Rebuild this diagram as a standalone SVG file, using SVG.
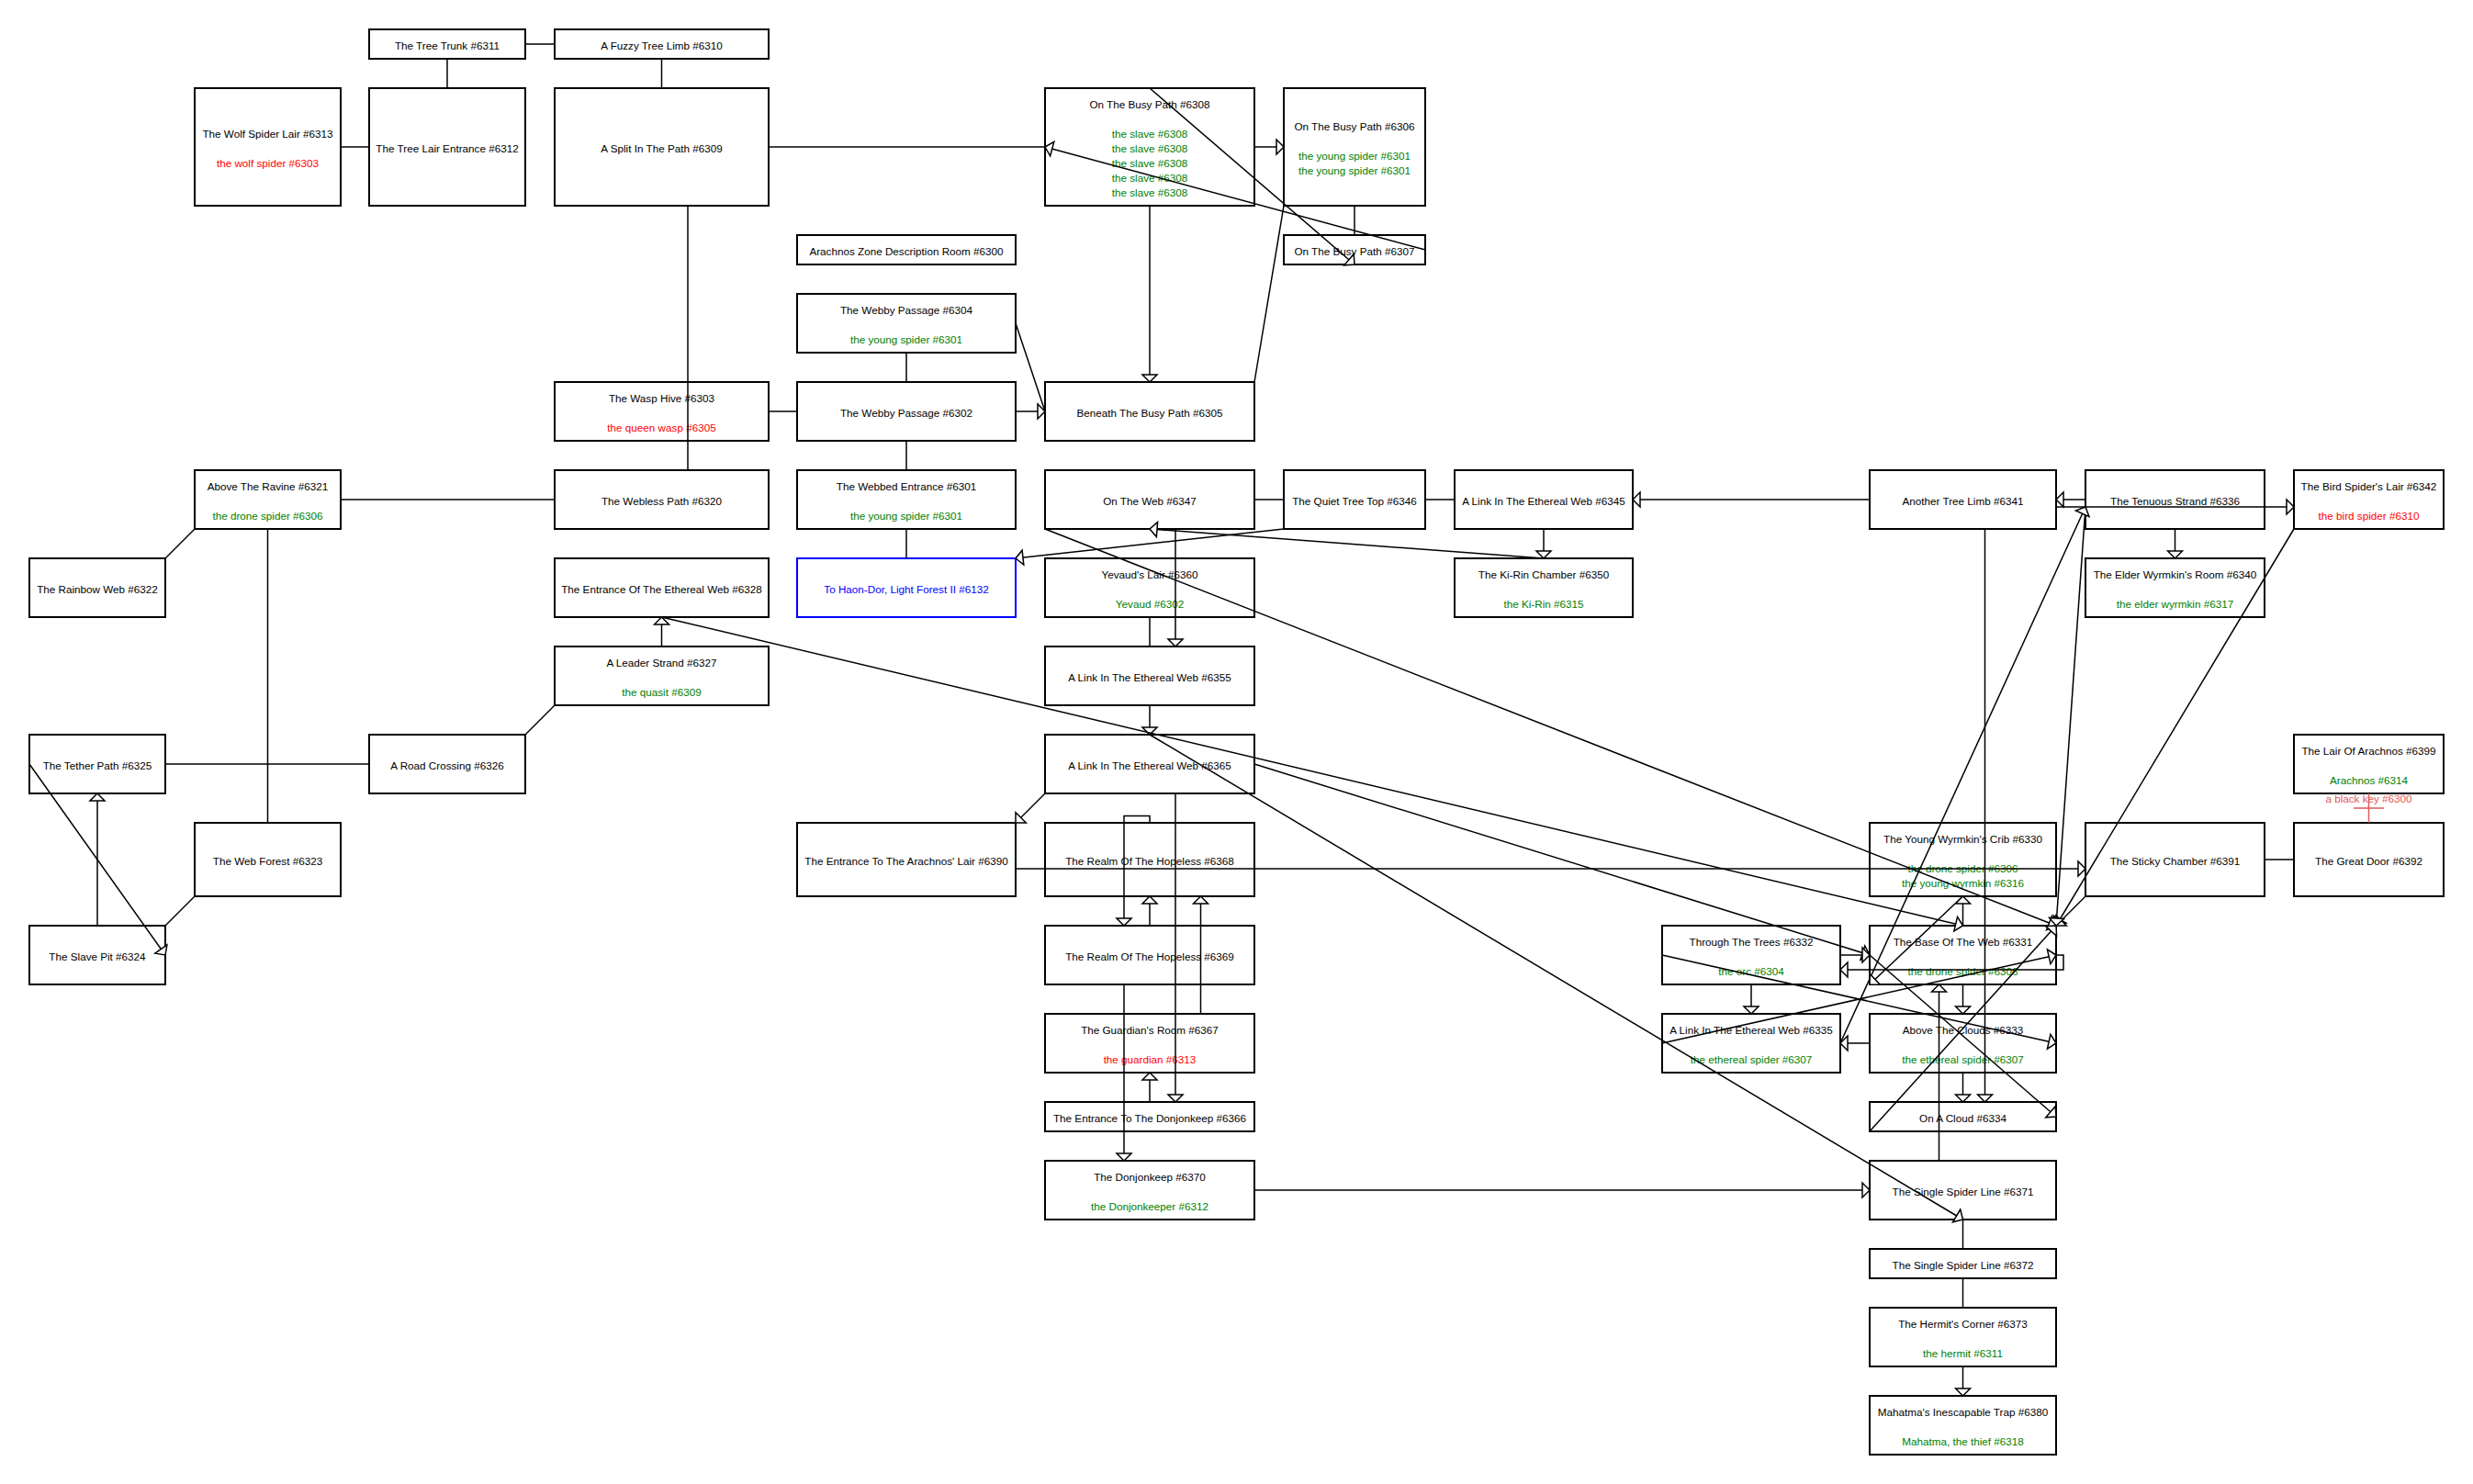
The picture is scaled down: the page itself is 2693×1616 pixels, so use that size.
<svg xmlns="http://www.w3.org/2000/svg" width="2693" height="1616" viewBox="0 0 2693 1616">
<style>
rect.b{fill:#fff;stroke:#000;stroke-width:2}
rect.bl{fill:#fff;stroke:#0000ff;stroke-width:2}
text{font-family:"Liberation Sans",Arial,sans-serif;font-size:11.7px;text-anchor:middle;fill:#000}
text.g{fill:#008000}
text.r{fill:#ff0000}
text.u{fill:#0000ff}
text.k{fill:#e05a5a}
#edges path{fill:none;stroke:#000;stroke-width:1.5}
#edges path.a{marker-end:url(#ah)}
#edges path.key{stroke:#e05a5a}
</style>
<defs>
<marker id="ah" markerUnits="userSpaceOnUse" viewBox="-10 -10 12 20" markerWidth="12" markerHeight="20" refX="0" refY="0" orient="auto"><path d="M0,0 L-8,-8 L-8,8 Z" fill="#fff" stroke="#000" stroke-width="1.5"/></marker>
</defs>
<rect width="2693" height="1616" fill="#fff"/>
<g id="nodes">
<g id="n6311"><rect class="b" x="402" y="32" width="170" height="32"/><text x="487" y="54">The Tree Trunk #6311</text></g>
<g id="n6310"><rect class="b" x="604" y="32" width="233" height="32"/><text x="720.5" y="54">A Fuzzy Tree Limb #6310</text></g>
<g id="n6313"><rect class="b" x="212" y="96" width="159" height="128"/><text x="291.5" y="150">The Wolf Spider Lair #6313</text><text class="r" x="291.5" y="182">the wolf spider #6303</text></g>
<g id="n6312"><rect class="b" x="402" y="96" width="170" height="128"/><text x="487" y="166">The Tree Lair Entrance #6312</text></g>
<g id="n6309"><rect class="b" x="604" y="96" width="233" height="128"/><text x="720.5" y="166">A Split In The Path #6309</text></g>
<g id="n6308"><rect class="b" x="1138" y="96" width="228" height="128"/><text x="1252" y="118">On The Busy Path #6308</text><text class="g" x="1252" y="150">the slave #6308</text><text class="g" x="1252" y="166">the slave #6308</text><text class="g" x="1252" y="182">the slave #6308</text><text class="g" x="1252" y="198">the slave #6308</text><text class="g" x="1252" y="214">the slave #6308</text></g>
<g id="n6306"><rect class="b" x="1398" y="96" width="154" height="128"/><text x="1475" y="142">On The Busy Path #6306</text><text class="g" x="1475" y="174">the young spider #6301</text><text class="g" x="1475" y="190">the young spider #6301</text></g>
<g id="n6307"><rect class="b" x="1398" y="256" width="154" height="32"/><text x="1475" y="278">On The Busy Path #6307</text></g>
<g id="n6300"><rect class="b" x="868" y="256" width="238" height="32"/><text x="987" y="278">Arachnos Zone Description Room #6300</text></g>
<g id="n6304"><rect class="b" x="868" y="320" width="238" height="64"/><text x="987" y="342">The Webby Passage #6304</text><text class="g" x="987" y="374">the young spider #6301</text></g>
<g id="n6303"><rect class="b" x="604" y="416" width="233" height="64"/><text x="720.5" y="438">The Wasp Hive #6303</text><text class="r" x="720.5" y="470">the queen wasp #6305</text></g>
<g id="n6302"><rect class="b" x="868" y="416" width="238" height="64"/><text x="987" y="454">The Webby Passage #6302</text></g>
<g id="n6305"><rect class="b" x="1138" y="416" width="228" height="64"/><text x="1252" y="454">Beneath The Busy Path #6305</text></g>
<g id="n6321"><rect class="b" x="212" y="512" width="159" height="64"/><text x="291.5" y="534">Above The Ravine #6321</text><text class="g" x="291.5" y="566">the drone spider #6306</text></g>
<g id="n6320"><rect class="b" x="604" y="512" width="233" height="64"/><text x="720.5" y="550">The Webless Path #6320</text></g>
<g id="n6301"><rect class="b" x="868" y="512" width="238" height="64"/><text x="987" y="534">The Webbed Entrance #6301</text><text class="g" x="987" y="566">the young spider #6301</text></g>
<g id="n6347"><rect class="b" x="1138" y="512" width="228" height="64"/><text x="1252" y="550">On The Web #6347</text></g>
<g id="n6346"><rect class="b" x="1398" y="512" width="154" height="64"/><text x="1475" y="550">The Quiet Tree Top #6346</text></g>
<g id="n6345"><rect class="b" x="1584" y="512" width="194" height="64"/><text x="1681" y="550">A Link In The Ethereal Web #6345</text></g>
<g id="n6341"><rect class="b" x="2036" y="512" width="203" height="64"/><text x="2137.5" y="550">Another Tree Limb #6341</text></g>
<g id="n6336"><rect class="b" x="2271" y="512" width="195" height="64"/><text x="2368.5" y="550">The Tenuous Strand #6336</text></g>
<g id="n6342"><rect class="b" x="2498" y="512" width="163" height="64"/><text x="2579.5" y="534">The Bird Spider's Lair #6342</text><text class="r" x="2579.5" y="566">the bird spider #6310</text></g>
<g id="n6322"><rect class="b" x="32" y="608" width="148" height="64"/><text x="106" y="646">The Rainbow Web #6322</text></g>
<g id="n6328"><rect class="b" x="604" y="608" width="233" height="64"/><text x="720.5" y="646">The Entrance Of The Ethereal Web #6328</text></g>
<g id="n6132"><rect class="bl" x="868" y="608" width="238" height="64"/><text class="u" x="987" y="646">To Haon-Dor, Light Forest II #6132</text></g>
<g id="n6360"><rect class="b" x="1138" y="608" width="228" height="64"/><text x="1252" y="630">Yevaud's Lair #6360</text><text class="g" x="1252" y="662">Yevaud #6302</text></g>
<g id="n6350"><rect class="b" x="1584" y="608" width="194" height="64"/><text x="1681" y="630">The Ki-Rin Chamber #6350</text><text class="g" x="1681" y="662">the Ki-Rin #6315</text></g>
<g id="n6340"><rect class="b" x="2271" y="608" width="195" height="64"/><text x="2368.5" y="630">The Elder Wyrmkin's Room #6340</text><text class="g" x="2368.5" y="662">the elder wyrmkin #6317</text></g>
<g id="n6327"><rect class="b" x="604" y="704" width="233" height="64"/><text x="720.5" y="726">A Leader Strand #6327</text><text class="g" x="720.5" y="758">the quasit #6309</text></g>
<g id="n6355"><rect class="b" x="1138" y="704" width="228" height="64"/><text x="1252" y="742">A Link In The Ethereal Web #6355</text></g>
<g id="n6325"><rect class="b" x="32" y="800" width="148" height="64"/><text x="106" y="838">The Tether Path #6325</text></g>
<g id="n6326"><rect class="b" x="402" y="800" width="170" height="64"/><text x="487" y="838">A Road Crossing #6326</text></g>
<g id="n6365"><rect class="b" x="1138" y="800" width="228" height="64"/><text x="1252" y="838">A Link In The Ethereal Web #6365</text></g>
<g id="n6399"><rect class="b" x="2498" y="800" width="163" height="64"/><text x="2579.5" y="822">The Lair Of Arachnos #6399</text><text class="g" x="2579.5" y="854">Arachnos #6314</text></g>
<g id="n6323"><rect class="b" x="212" y="896" width="159" height="80"/><text x="291.5" y="942">The Web Forest #6323</text></g>
<g id="n6390"><rect class="b" x="868" y="896" width="238" height="80"/><text x="987" y="942">The Entrance To The Arachnos' Lair #6390</text></g>
<g id="n6368"><rect class="b" x="1138" y="896" width="228" height="80"/><text x="1252" y="942">The Realm Of The Hopeless #6368</text></g>
<g id="n6330"><rect class="b" x="2036" y="896" width="203" height="80"/><text x="2137.5" y="918">The Young Wyrmkin's Crib #6330</text><text class="g" x="2137.5" y="950">the drone spider #6306</text><text class="g" x="2137.5" y="966">the young wyrmkin #6316</text></g>
<g id="n6391"><rect class="b" x="2271" y="896" width="195" height="80"/><text x="2368.5" y="942">The Sticky Chamber #6391</text></g>
<g id="n6392"><rect class="b" x="2498" y="896" width="163" height="80"/><text x="2579.5" y="942">The Great Door #6392</text></g>
<g id="n6324"><rect class="b" x="32" y="1008" width="148" height="64"/><text x="106" y="1046">The Slave Pit #6324</text></g>
<g id="n6369"><rect class="b" x="1138" y="1008" width="228" height="64"/><text x="1252" y="1046">The Realm Of The Hopeless #6369</text></g>
<g id="n6332"><rect class="b" x="1810" y="1008" width="194" height="64"/><text x="1907" y="1030">Through The Trees #6332</text><text class="g" x="1907" y="1062">the orc #6304</text></g>
<g id="n6331"><rect class="b" x="2036" y="1008" width="203" height="64"/><text x="2137.5" y="1030">The Base Of The Web #6331</text><text class="g" x="2137.5" y="1062">the drone spider #6306</text></g>
<g id="n6367"><rect class="b" x="1138" y="1104" width="228" height="64"/><text x="1252" y="1126">The Guardian's Room #6367</text><text class="r" x="1252" y="1158">the guardian #6313</text></g>
<g id="n6335"><rect class="b" x="1810" y="1104" width="194" height="64"/><text x="1907" y="1126">A Link In The Ethereal Web #6335</text><text class="g" x="1907" y="1158">the ethereal spider #6307</text></g>
<g id="n6333"><rect class="b" x="2036" y="1104" width="203" height="64"/><text x="2137.5" y="1126">Above The Clouds #6333</text><text class="g" x="2137.5" y="1158">the ethereal spider #6307</text></g>
<g id="n6366"><rect class="b" x="1138" y="1200" width="228" height="32"/><text x="1252" y="1222">The Entrance To The Donjonkeep #6366</text></g>
<g id="n6334"><rect class="b" x="2036" y="1200" width="203" height="32"/><text x="2137.5" y="1222">On A Cloud #6334</text></g>
<g id="n6370"><rect class="b" x="1138" y="1264" width="228" height="64"/><text x="1252" y="1286">The Donjonkeep #6370</text><text class="g" x="1252" y="1318">the Donjonkeeper #6312</text></g>
<g id="n6371"><rect class="b" x="2036" y="1264" width="203" height="64"/><text x="2137.5" y="1302">The Single Spider Line #6371</text></g>
<g id="n6372"><rect class="b" x="2036" y="1360" width="203" height="32"/><text x="2137.5" y="1382">The Single Spider Line #6372</text></g>
<g id="n6373"><rect class="b" x="2036" y="1424" width="203" height="64"/><text x="2137.5" y="1446">The Hermit's Corner #6373</text><text class="g" x="2137.5" y="1478">the hermit #6311</text></g>
<g id="n6380"><rect class="b" x="2036" y="1520" width="203" height="64"/><text x="2137.5" y="1542">Mahatma's Inescapable Trap #6380</text><text class="g" x="2137.5" y="1574">Mahatma, the thief #6318</text></g>
</g>
<g id="edges">
<path d="M572,48 H604"/>
<path d="M487,64 V96"/>
<path d="M720.5,64 V96"/>
<path d="M371,160 H402"/>
<path d="M837,160 H1138"/>
<path d="M1475,224 V256"/>
<path d="M1398,224 L1366,416"/>
<path d="M987,384 V416"/>
<path d="M837,448 H868"/>
<path d="M749,224 V512"/>
<path d="M987,480 V512"/>
<path d="M371,544 H604"/>
<path d="M212,576 L180,608"/>
<path d="M291.5,576 V896"/>
<path d="M180,832 H402"/>
<path d="M572,800 L604,768"/>
<path d="M1366,544 H1398"/>
<path d="M1552,544 H1584"/>
<path d="M987,576 V608"/>
<path d="M1252,672 V704"/>
<path d="M2466,936 H2498"/>
<path d="M212,976 L180,1008"/>
<path d="M2137.5,1360 V1328"/>
<path d="M2137.5,1392 V1424"/>
<path d="M1106,352 L1138,448"/>
<path class="a" d="M2137.5,1488 V1520"/>
<path class="a" d="M1552,272 L1138,160"/>
<path class="a" d="M1366,160 H1398"/>
<path class="a" d="M1252,96 L1475,288"/>
<path class="a" d="M1252,224 V416"/>
<path class="a" d="M1106,448 H1138"/>
<path class="a" d="M2036,544 H1778"/>
<path class="a" d="M2271,544 H2239"/>
<path class="a" d="M2239,552 H2498"/>
<path class="a" d="M2368.5,576 V608"/>
<path class="a" d="M1398,576 L1106,608"/>
<path class="a" d="M1681,608 L1252,576"/>
<path class="a" d="M1681,576 V608"/>
<path class="a" d="M1280,576 V704"/>
<path class="a" d="M1252,768 V800"/>
<path class="a" d="M720.5,704 V672"/>
<path class="a" d="M720.5,672 L2137.5,1008"/>
<path class="a" d="M1138,576 L2239,1008"/>
<path class="a" d="M1366,832 L2036,1040"/>
<path class="a" d="M1252,800 L2137.5,1328"/>
<path class="a" d="M1138,864 L1106,896"/>
<path class="a" d="M1280,864 V1200"/>
<path class="a" d="M1252,896 V888.5 H1224 V1008"/>
<path class="a" d="M1252,1008 V976"/>
<path class="a" d="M1307.5,1104 V976"/>
<path class="a" d="M1224,1072 V1264"/>
<path class="a" d="M1252,1200 V1168"/>
<path class="a" d="M1366,1296 H2036"/>
<path class="a" d="M1106,946 H2271"/>
<path class="a" d="M2498,576 L2239,1008"/>
<path class="a" d="M2271,976 L2239,1008"/>
<path class="a" d="M2271,552 L2239,1008"/>
<path class="a" d="M2004,1136 L2271,552"/>
<path class="a" d="M2137.5,976 L2036,1072"/>
<path class="a" d="M2036,1040 L2239,1216"/>
<path class="a" d="M2004,1040 H2036"/>
<path class="a" d="M2239,1040 H2247 V1056 H2004"/>
<path class="a" d="M1810,1040 L2239,1136"/>
<path class="a" d="M1810,1136 L2239,1040"/>
<path class="a" d="M1907,1072 V1104"/>
<path class="a" d="M2036,1136 H2004"/>
<path class="a" d="M2137.5,1072 V1104"/>
<path class="a" d="M2137.5,1168 V1200"/>
<path class="a" d="M2161.5,576 V1200"/>
<path class="a" d="M2111.5,1264 V1072"/>
<path class="a" d="M2036,1232 L2239,1008"/>
<path class="a" d="M2137.5,1008 V976"/>
<path class="a" d="M106,1008 V864"/>
<path class="a" d="M32,832 L180,1040"/>
<path class="key" d="M2579.5,864 V896 M2563,880 H2596"/>
<text class="k" x="2579.5" y="874">a black key #6300</text>
</g>
</svg>
